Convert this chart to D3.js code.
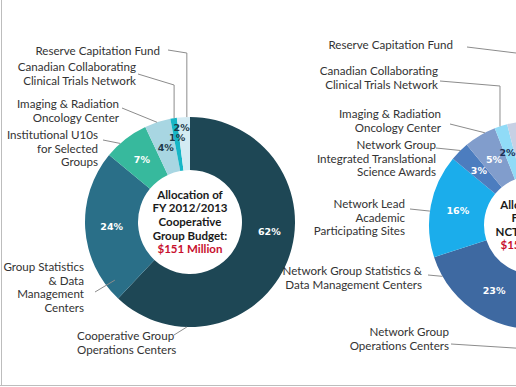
<!DOCTYPE html>
<html>
<head>
<meta charset="utf-8">
<script src="https://cdn.jsdelivr.net/npm/d3@7"></script>
<style>
  html, body { margin: 0; padding: 0; background: #fff; overflow: hidden; }
  svg { display: block; }
</style>
</head>
<body>
<div id="chart"></div>
<script>
// data (percent of budget)
const leftCategories = ['Cooperative Group Operations Centers', 'Group Statistics & Data Management Centers',
    'Institutional U10s for Selected Groups', 'Imaging & Radiation Oncology Center',
    'Canadian Collaborating Clinical Trials Network', 'Reserve Capitation Fund'];
const leftValues = [62, 24, 7, 4, 1, 2];
const leftLabelLines = [
    ['Cooperative Group', 'Operations Centers'],
    ['Group Statistics', '& Data', 'Management', 'Centers'],
    ['Institutional U10s', 'for Selected', 'Groups'],
    ['Imaging & Radiation', 'Oncology Center'],
    ['Canadian Collaborating', 'Clinical Trials Network'],
    ['Reserve Capitation Fund']
];
const leftTitle = ['Allocation of', 'FY 2012/2013', 'Cooperative', 'Group Budget:'];
const leftTotal = '$151 Million';

const rightCategories = ['Network Group Operations Centers', 'Network Group Statistics & Data Management Centers',
    'Network Lead Academic Participating Sites', 'Network Group Integrated Translational Science Awards',
    'Imaging & Radiation Oncology Center', 'Canadian Collaborating Clinical Trials Network', 'Reserve Capitation Fund'];
const rightValues = [47, 23, 16, 3, 5, 2, 4];
const rightLabelLines = [
    ['Network Group', 'Operations Centers'],
    ['Network Group Statistics &', 'Data Management Centers'],
    ['Network Lead', 'Academic', 'Participating Sites'],
    ['Network Group', 'Integrated Translational', 'Science Awards'],
    ['Imaging & Radiation', 'Oncology Center'],
    ['Canadian Collaborating', 'Clinical Trials Network'],
    ['Reserve Capitation Fund']
];
const rightTitle = ['Allocation of', 'FY 2014', 'NCTN Budget:'];
const rightTotal = '$150 Million';

const width = 516, height = 387;

const svg = d3.select('#chart')
    .append('svg')
    .attr('width', width)
    .attr('height', height);

// layout of each donut: geometry, colours, label anchors and leader lines
const layouts = [
    {
        values: leftValues, lines: leftLabelLines, title: leftTitle, total: leftTotal,
        cx: 190, cy: 222, rOut: 105, rIn: 52,
        colors: ['#1e4755', '#2a6f88', '#37b99d', '#a8d6e2', '#17b6c6', '#d3ebf3'],
        pctColor: ['#fff', '#fff', '#fff', '#1d3a4a', '#1d3a4a', '#1d3a4a'],
        pctPos: [{ t: 0.435, r: 80 }, {}, {}, {}, { t: 0.58, r: 85 }, { t: 0.3, r: 95 }],
        labels: [
            { x: 77, y: 336, anchor: 'start', from: [174, 335], t: 0.814, r: 105 },
            { x: 84, y: 267, anchor: 'end', from: [95, 292], t: 0.105, r: 95 },
            { x: 98, y: 135, anchor: 'end', from: [103, 140], t: 0.35 },
            { x: 119, y: 104, anchor: 'end', from: [122, 108], t: 0.48 },
            { x: 136, y: 67, anchor: 'end', from: [138, 74], elbowY: 85, t: 0.58 },
            { x: 160, y: 51, anchor: 'end', from: [168, 50], elbowY: 53, t: 0.76 }
        ]
    },
    {
        values: rightValues, lines: rightLabelLines, title: rightTitle, total: rightTotal,
        cx: 533, cy: 225, rOut: 104, rIn: 49,
        colors: ['#2b4f85', '#3e69a1', '#1badeb', '#4c7dbf', '#819dcc', '#90dbf7', '#c7d0e4'],
        pctColor: ['#fff', '#fff', '#fff', '#fff', '#fff', '#1d2f55', '#1d2f55'],
        pctPos: [{}, {}, {}, {}, {}, { t: 0.3 }, { t: 0.55 }],
        labels: [
            { x: 449, y: 332, anchor: 'end', from: [451, 344], elbowY: 351, t: 0.97 },
            { x: 422, y: 271, anchor: 'end', from: [428, 275], t: 0.86 },
            { x: 405, y: 204, anchor: 'end', from: [410, 209], t: 0.446 },
            { x: 436, y: 145, anchor: 'end', from: [436, 148], t: 0.57 },
            { x: 441, y: 114, anchor: 'end', from: [450, 124], t: 0.67 },
            { x: 438, y: 71, anchor: 'end', from: [440, 81], elbowY: 86, t: 0.43 },
            { x: 453, y: 45, anchor: 'end', from: [467, 47], elbowY: 53.5, t: 0.5 }
        ]
    }
];

const pie = d3.pie().sort(null).value(d => d);
const lineH = 13.6;

layouts.forEach(function (L) {
    const arcs = pie(L.values);
    const arc = d3.arc().innerRadius(L.rIn).outerRadius(L.rOut);
    const g = svg.append('g');

    // point on the ring inside a slice
    function ringPoint(d, t, r) {
        const a = d.startAngle + t * (d.endAngle - d.startAngle);
        return [L.cx + r * Math.sin(a), L.cy - r * Math.cos(a)];
    }

    // slices
    g.selectAll('path')
        .data(arcs)
        .enter()
        .append('path')
        .attr('transform', `translate(${L.cx},${L.cy})`)
        .attr('d', arc)
        .style('fill', (d, i) => L.colors[i]);

    // leader lines
    g.selectAll('polyline')
        .data(arcs)
        .enter()
        .append('polyline')
        .attr('points', function (d, i) {
            const lb = L.labels[i];
            const end = ringPoint(d, lb.t, lb.r || L.rOut);
            const pts = [lb.from];
            if (lb.elbowY !== undefined) pts.push([end[0], lb.elbowY]);
            pts.push(end);
            return pts.map(p => p.join(',')).join(' ');
        })
        .style('fill', 'none')
        .style('stroke', '#8c8c8c')
        .style('stroke-width', 1);

    // category labels
    const labels = g.selectAll('text.cat')
        .data(arcs)
        .enter()
        .append('text')
        .attr('class', 'cat')
        .attr('text-anchor', (d, i) => L.labels[i].anchor)
        .attr('font-family', 'Lato, sans-serif')
        .attr('font-size', '11.6px')
        .attr('fill', '#333');
    labels.each(function (d, i) {
        const lb = L.labels[i];
        d3.select(this).selectAll('tspan')
            .data(L.lines[i])
            .enter()
            .append('tspan')
            .attr('x', lb.x)
            .attr('y', (s, k) => lb.y + 4 + k * lineH)
            .text(s => s);
    });

    // percent labels
    const pctPoint = (d, i) => ringPoint(d, L.pctPos[i].t ?? 0.5, L.pctPos[i].r ?? (L.rIn + L.rOut) / 2);
    g.selectAll('text.pct')
        .data(arcs)
        .enter()
        .append('text')
        .attr('class', 'pct')
        .attr('x', (d, i) => pctPoint(d, i)[0])
        .attr('y', (d, i) => pctPoint(d, i)[1] + 3.5)
        .attr('text-anchor', 'middle')
        .attr('font-family', 'DejaVu Sans, sans-serif')
        .attr('font-weight', 'bold')
        .attr('font-size', '9.5px')
        .attr('fill', (d, i) => L.pctColor[i])
        .text(d => d.data + '%');

    // centre title
    const rows = L.title.concat([L.total]);
    const top = L.cy - (rows.length - 1) * lineH / 2;
    g.append('text')
        .attr('text-anchor', 'middle')
        .attr('font-family', 'Lato, sans-serif')
        .attr('font-weight', 'bold')
        .attr('font-size', '11.5px')
        .selectAll('tspan')
        .data(rows)
        .enter()
        .append('tspan')
        .attr('x', L.cx)
        .attr('y', (s, k) => top + 4 + k * lineH)
        .attr('fill', (s, k) => k === rows.length - 1 ? '#c8102e' : '#1a1a1a')
        .text(s => s);
});

// frame lines at left and bottom
svg.append('line')
    .attr('x1', 1.5).attr('x2', 1.5).attr('y1', 0).attr('y2', 386)
    .style('stroke', '#bdbdbd');
svg.append('line')
    .attr('x1', 0).attr('x2', width).attr('y1', 385.5).attr('y2', 385.5)
    .style('stroke', '#bdbdbd');
</script>
</body>
</html>
